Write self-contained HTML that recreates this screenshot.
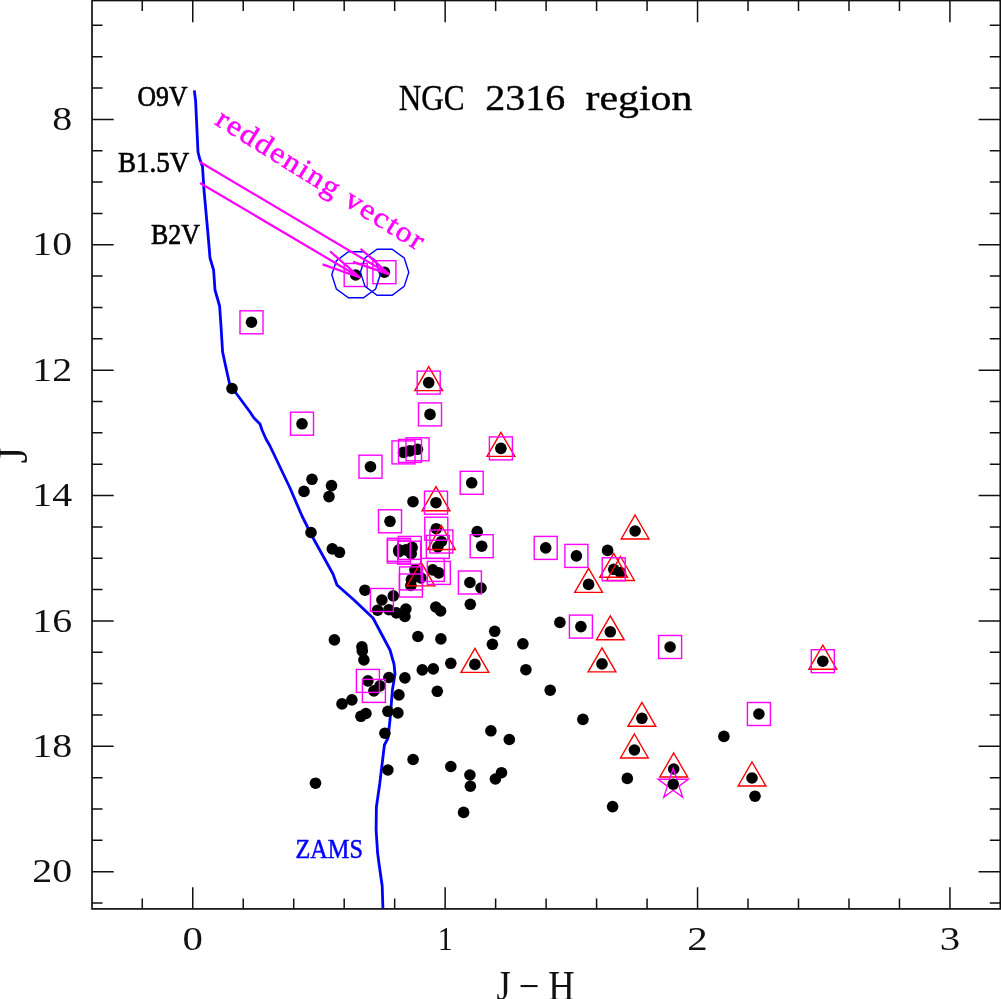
<!DOCTYPE html>
<html lang="en"><head><meta charset="utf-8"><title>NGC 2316 region: J vs J-H</title>
<style>html,body{margin:0;padding:0;background:#fff}svg{display:block}text{font-family:"Liberation Serif","DejaVu Serif",serif}</style></head><body>
<svg width="1001" height="999" viewBox="0 0 1001 999">
<rect x="0" y="0" width="1001" height="999" fill="#fff"/>
<g stroke="#111" fill="none" stroke-width="1.5" stroke-linecap="butt">
<rect x="92.0" y="0.5" width="908.3" height="908.4" stroke-width="1.7"/>
<path d="M142.27 908.9v-10.5M142.27 0.5v10.5"/>
<path d="M192.75 908.9v-21.7M192.75 0.5v21.7"/>
<path d="M243.23 908.9v-10.5M243.23 0.5v10.5"/>
<path d="M293.71 908.9v-10.5M293.71 0.5v10.5"/>
<path d="M344.19 908.9v-10.5M344.19 0.5v10.5"/>
<path d="M394.67 908.9v-10.5M394.67 0.5v10.5"/>
<path d="M445.15 908.9v-21.7M445.15 0.5v21.7"/>
<path d="M495.63 908.9v-10.5M495.63 0.5v10.5"/>
<path d="M546.11 908.9v-10.5M546.11 0.5v10.5"/>
<path d="M596.59 908.9v-10.5M596.59 0.5v10.5"/>
<path d="M647.07 908.9v-10.5M647.07 0.5v10.5"/>
<path d="M697.55 908.9v-21.7M697.55 0.5v21.7"/>
<path d="M748.03 908.9v-10.5M748.03 0.5v10.5"/>
<path d="M798.51 908.9v-10.5M798.51 0.5v10.5"/>
<path d="M848.99 908.9v-10.5M848.99 0.5v10.5"/>
<path d="M899.47 908.9v-10.5M899.47 0.5v10.5"/>
<path d="M949.95 908.9v-21.7M949.95 0.5v21.7"/>
<path d="M92.0 25.37h10.5M1000.3 25.37h-10.5"/>
<path d="M92.0 56.71h10.5M1000.3 56.71h-10.5"/>
<path d="M92.0 88.06h10.5M1000.3 88.06h-10.5"/>
<path d="M92.0 119.40h21.7M1000.3 119.40h-21.7"/>
<path d="M92.0 150.75h10.5M1000.3 150.75h-10.5"/>
<path d="M92.0 182.09h10.5M1000.3 182.09h-10.5"/>
<path d="M92.0 213.44h10.5M1000.3 213.44h-10.5"/>
<path d="M92.0 244.78h21.7M1000.3 244.78h-21.7"/>
<path d="M92.0 276.12h10.5M1000.3 276.12h-10.5"/>
<path d="M92.0 307.47h10.5M1000.3 307.47h-10.5"/>
<path d="M92.0 338.81h10.5M1000.3 338.81h-10.5"/>
<path d="M92.0 370.16h21.7M1000.3 370.16h-21.7"/>
<path d="M92.0 401.50h10.5M1000.3 401.50h-10.5"/>
<path d="M92.0 432.85h10.5M1000.3 432.85h-10.5"/>
<path d="M92.0 464.19h10.5M1000.3 464.19h-10.5"/>
<path d="M92.0 495.54h21.7M1000.3 495.54h-21.7"/>
<path d="M92.0 526.88h10.5M1000.3 526.88h-10.5"/>
<path d="M92.0 558.23h10.5M1000.3 558.23h-10.5"/>
<path d="M92.0 589.57h10.5M1000.3 589.57h-10.5"/>
<path d="M92.0 620.92h21.7M1000.3 620.92h-21.7"/>
<path d="M92.0 652.26h10.5M1000.3 652.26h-10.5"/>
<path d="M92.0 683.61h10.5M1000.3 683.61h-10.5"/>
<path d="M92.0 714.95h10.5M1000.3 714.95h-10.5"/>
<path d="M92.0 746.30h21.7M1000.3 746.30h-21.7"/>
<path d="M92.0 777.64h10.5M1000.3 777.64h-10.5"/>
<path d="M92.0 808.99h10.5M1000.3 808.99h-10.5"/>
<path d="M92.0 840.33h10.5M1000.3 840.33h-10.5"/>
<path d="M92.0 871.68h21.7M1000.3 871.68h-21.7"/>
<path d="M92.0 903.02h10.5M1000.3 903.02h-10.5"/>
</g>
<text transform="translate(72.1,130.0) scale(1.19,1)" text-anchor="end" font-size="33.5px" fill="#111">8</text>
<text transform="translate(72.1,255.4) scale(1.19,1)" text-anchor="end" font-size="33.5px" fill="#111">10</text>
<text transform="translate(72.1,380.8) scale(1.19,1)" text-anchor="end" font-size="33.5px" fill="#111">12</text>
<text transform="translate(72.1,506.1) scale(1.19,1)" text-anchor="end" font-size="33.5px" fill="#111">14</text>
<text transform="translate(72.1,631.5) scale(1.19,1)" text-anchor="end" font-size="33.5px" fill="#111">16</text>
<text transform="translate(72.1,756.9) scale(1.19,1)" text-anchor="end" font-size="33.5px" fill="#111">18</text>
<text transform="translate(72.1,882.3) scale(1.19,1)" text-anchor="end" font-size="33.5px" fill="#111">20</text>
<text transform="translate(192.8,950.3) scale(1.22,1)" text-anchor="middle" font-size="33.5px" fill="#111">0</text>
<text transform="translate(445.4,950.3) scale(0.9,1)" text-anchor="middle" font-size="33.5px" fill="#111">1</text>
<text transform="translate(697.5,950.3) scale(1.22,1)" text-anchor="middle" font-size="33.5px" fill="#111">2</text>
<text transform="translate(950.0,950.3) scale(1.22,1)" text-anchor="middle" font-size="33.5px" fill="#111">3</text>
<text transform="translate(496.6,1000) scale(0.87,1)" x="0 25.5 59.5" font-size="42px" fill="#111">J−H</text>
<text transform="translate(27,455.2) rotate(-90)" text-anchor="middle" font-size="42px" fill="#111">J</text>
<g aria-label="NGC 2316 region">
<text transform="translate(398.7,110.3) scale(0.8931,1)" font-size="35px" fill="#000" stroke="#000" stroke-width="0.35">NGC</text>
<text transform="translate(485.3,110.3) scale(1.1429,1)" font-size="35px" fill="#000" stroke="#000" stroke-width="0.35">2316</text>
<text transform="translate(585.5,110.3) scale(1.1967,1)" font-size="35px" fill="#000" stroke="#000" stroke-width="0.35">region</text>
</g>
<text transform="translate(137.5,106.1) scale(0.9023,1)" font-size="28.5px" fill="#000" stroke="#000" stroke-width="0.7">O9V</text>
<text transform="translate(118,171.7) scale(0.9493,1)" font-size="28.5px" fill="#000" stroke="#000" stroke-width="0.7">B1.5V</text>
<text transform="translate(151,244) scale(0.9064,1)" font-size="28.5px" fill="#000" stroke="#000" stroke-width="0.7">B2V</text>
<polyline points="194.3,90.4 195.6,100.8 198.0,152.0 199.6,158.4 202.5,166.4 203.9,188.8 208.5,240.0 210.0,258.0 213.6,270.0 215.0,290.0 219.6,306.0 221.0,326.0 222.6,352.0 225.6,366.0 229.6,384.0 233.0,389.0 250.0,412.0 254.0,418.0 260.0,424.0 262.0,430.0 266.0,439.0 270.0,446.0 290.0,488.0 302.0,516.0 312.0,536.0 333.0,574.0 337.0,585.0 354.0,600.0 373.0,618.0 390.0,650.0 394.0,664.0 395.0,674.0 392.4,690.0 390.0,720.0 388.0,738.0 384.4,745.0 382.6,760.0 379.7,784.0 376.4,807.0 376.1,830.0 377.6,853.0 379.2,865.0 382.2,886.0 382.9,908.2" fill="none" stroke="#0000ff" stroke-width="2.8" stroke-linejoin="round"/>
<text transform="translate(295.5,857.5) scale(0.9052,1)" font-size="26.8px" fill="#0000ff" stroke="#0000ff" stroke-width="0.5">ZAMS</text>
<g fill="#000">
<circle cx="355.7" cy="275.0" r="5.8"/>
<circle cx="384.4" cy="272.2" r="5.8"/>
<circle cx="251.5" cy="322.2" r="5.8"/>
<circle cx="232.0" cy="388.5" r="5.8"/>
<circle cx="302.0" cy="423.8" r="5.8"/>
<circle cx="428.7" cy="382.6" r="5.8"/>
<circle cx="430.0" cy="414.4" r="5.8"/>
<circle cx="370.5" cy="466.7" r="5.8"/>
<circle cx="403.5" cy="452.4" r="5.8"/>
<circle cx="410.0" cy="450.9" r="5.8"/>
<circle cx="417.5" cy="449.3" r="5.8"/>
<circle cx="500.9" cy="448.4" r="5.8"/>
<circle cx="471.7" cy="482.8" r="5.8"/>
<circle cx="413.0" cy="501.7" r="5.8"/>
<circle cx="436.0" cy="502.7" r="5.8"/>
<circle cx="390.0" cy="521.3" r="5.8"/>
<circle cx="436.3" cy="528.7" r="5.8"/>
<circle cx="477.2" cy="531.6" r="5.8"/>
<circle cx="441.4" cy="541.5" r="5.8"/>
<circle cx="437.8" cy="546.9" r="5.8"/>
<circle cx="481.7" cy="546.2" r="5.8"/>
<circle cx="312.0" cy="479.3" r="5.8"/>
<circle cx="304.0" cy="491.4" r="5.8"/>
<circle cx="331.5" cy="485.6" r="5.8"/>
<circle cx="329.0" cy="496.6" r="5.8"/>
<circle cx="311.0" cy="532.5" r="5.8"/>
<circle cx="332.3" cy="548.9" r="5.8"/>
<circle cx="339.5" cy="552.3" r="5.8"/>
<circle cx="398.9" cy="549.8" r="5.8"/>
<circle cx="398.9" cy="551.6" r="5.8"/>
<circle cx="405.9" cy="549.9" r="5.8"/>
<circle cx="412.1" cy="547.4" r="5.8"/>
<circle cx="411.2" cy="553.7" r="5.8"/>
<circle cx="414.9" cy="569.9" r="5.8"/>
<circle cx="411.4" cy="579.6" r="5.8"/>
<circle cx="420.9" cy="577.9" r="5.8"/>
<circle cx="410.9" cy="585.5" r="5.8"/>
<circle cx="432.8" cy="569.9" r="5.8"/>
<circle cx="438.8" cy="572.9" r="5.8"/>
<circle cx="469.9" cy="582.5" r="5.8"/>
<circle cx="481.0" cy="588.0" r="5.8"/>
<circle cx="470.3" cy="604.3" r="5.8"/>
<circle cx="364.9" cy="590.2" r="5.8"/>
<circle cx="381.9" cy="600.0" r="5.8"/>
<circle cx="393.3" cy="595.8" r="5.8"/>
<circle cx="377.6" cy="610.2" r="5.8"/>
<circle cx="388.9" cy="609.7" r="5.8"/>
<circle cx="396.4" cy="612.9" r="5.8"/>
<circle cx="405.9" cy="609.0" r="5.8"/>
<circle cx="404.9" cy="616.4" r="5.8"/>
<circle cx="435.8" cy="607.0" r="5.8"/>
<circle cx="440.6" cy="611.0" r="5.8"/>
<circle cx="494.7" cy="631.3" r="5.8"/>
<circle cx="492.4" cy="644.3" r="5.8"/>
<circle cx="417.9" cy="636.5" r="5.8"/>
<circle cx="440.9" cy="638.9" r="5.8"/>
<circle cx="334.4" cy="639.9" r="5.8"/>
<circle cx="361.9" cy="646.9" r="5.8"/>
<circle cx="362.3" cy="650.9" r="5.8"/>
<circle cx="363.9" cy="659.9" r="5.8"/>
<circle cx="450.8" cy="663.3" r="5.8"/>
<circle cx="474.9" cy="664.4" r="5.8"/>
<circle cx="422.3" cy="669.9" r="5.8"/>
<circle cx="433.3" cy="668.9" r="5.8"/>
<circle cx="388.9" cy="677.5" r="5.8"/>
<circle cx="404.9" cy="677.9" r="5.8"/>
<circle cx="367.9" cy="680.9" r="5.8"/>
<circle cx="379.9" cy="685.9" r="5.8"/>
<circle cx="373.9" cy="690.9" r="5.8"/>
<circle cx="437.3" cy="691.3" r="5.8"/>
<circle cx="398.9" cy="694.9" r="5.8"/>
<circle cx="351.9" cy="699.9" r="5.8"/>
<circle cx="342.0" cy="703.9" r="5.8"/>
<circle cx="387.9" cy="711.3" r="5.8"/>
<circle cx="397.9" cy="712.9" r="5.8"/>
<circle cx="365.9" cy="713.5" r="5.8"/>
<circle cx="360.9" cy="716.3" r="5.8"/>
<circle cx="384.9" cy="733.2" r="5.8"/>
<circle cx="490.9" cy="730.8" r="5.8"/>
<circle cx="509.3" cy="739.5" r="5.8"/>
<circle cx="413.1" cy="759.5" r="5.8"/>
<circle cx="387.9" cy="770.0" r="5.8"/>
<circle cx="315.5" cy="783.2" r="5.8"/>
<circle cx="450.8" cy="766.5" r="5.8"/>
<circle cx="469.9" cy="775.0" r="5.8"/>
<circle cx="470.4" cy="786.2" r="5.8"/>
<circle cx="501.5" cy="772.7" r="5.8"/>
<circle cx="495.4" cy="779.0" r="5.8"/>
<circle cx="463.6" cy="812.4" r="5.8"/>
<circle cx="545.7" cy="547.9" r="5.8"/>
<circle cx="576.4" cy="555.9" r="5.8"/>
<circle cx="607.6" cy="550.4" r="5.8"/>
<circle cx="635.1" cy="531.0" r="5.8"/>
<circle cx="613.7" cy="569.3" r="5.8"/>
<circle cx="620.5" cy="572.5" r="5.8"/>
<circle cx="588.6" cy="584.4" r="5.8"/>
<circle cx="559.9" cy="622.4" r="5.8"/>
<circle cx="580.9" cy="626.6" r="5.8"/>
<circle cx="610.3" cy="631.8" r="5.8"/>
<circle cx="522.9" cy="643.8" r="5.8"/>
<circle cx="525.9" cy="669.7" r="5.8"/>
<circle cx="602.0" cy="663.9" r="5.8"/>
<circle cx="670.1" cy="647.0" r="5.8"/>
<circle cx="550.2" cy="690.2" r="5.8"/>
<circle cx="582.9" cy="719.4" r="5.8"/>
<circle cx="641.9" cy="718.3" r="5.8"/>
<circle cx="634.4" cy="750.0" r="5.8"/>
<circle cx="673.7" cy="769.0" r="5.8"/>
<circle cx="673.2" cy="784.2" r="5.8"/>
<circle cx="627.3" cy="778.4" r="5.8"/>
<circle cx="612.6" cy="806.6" r="5.8"/>
<circle cx="822.8" cy="661.2" r="5.8"/>
<circle cx="758.9" cy="714.0" r="5.8"/>
<circle cx="723.9" cy="736.4" r="5.8"/>
<circle cx="752.0" cy="778.0" r="5.8"/>
<circle cx="755.0" cy="796.2" r="5.8"/>
</g>
<g fill="none" stroke="#ff0000" stroke-width="1.4">
<polygon points="428.7,366.6 442.6,390.6 414.8,390.6"/>
<polygon points="500.9,432.4 514.8,456.4 487.0,456.4"/>
<polygon points="436.0,486.7 449.9,510.7 422.1,510.7"/>
<polygon points="441.4,525.5 455.3,549.5 427.5,549.5"/>
<polygon points="420.9,561.9 434.8,585.9 407.0,585.9"/>
<polygon points="474.9,648.4 488.8,672.4 461.0,672.4"/>
<polygon points="635.1,515.0 649.0,539.0 621.2,539.0"/>
<polygon points="613.7,553.3 627.6,577.3 599.8,577.3"/>
<polygon points="620.5,556.5 634.4,580.5 606.6,580.5"/>
<polygon points="588.6,568.4 602.5,592.4 574.7,592.4"/>
<polygon points="610.3,615.8 624.2,639.8 596.4,639.8"/>
<polygon points="602.0,647.9 615.9,671.9 588.1,671.9"/>
<polygon points="641.9,702.3 655.8,726.3 628.0,726.3"/>
<polygon points="634.4,734.0 648.3,758.0 620.5,758.0"/>
<polygon points="673.7,753.0 687.6,777.0 659.8,777.0"/>
<polygon points="822.8,645.2 836.7,669.2 808.9,669.2"/>
<polygon points="752.0,762.0 765.9,786.0 738.1,786.0"/>
</g>
<g fill="none" stroke="#ff00ff" stroke-width="1.4">
<rect x="344.2" y="263.5" width="23" height="23"/>
<rect x="372.9" y="260.7" width="23" height="23"/>
<rect x="240.0" y="310.8" width="23" height="23"/>
<rect x="290.5" y="412.2" width="23" height="23"/>
<rect x="417.2" y="371.1" width="23" height="23"/>
<rect x="418.5" y="402.9" width="23" height="23"/>
<rect x="359.0" y="455.2" width="23" height="23"/>
<rect x="392.0" y="440.9" width="23" height="23"/>
<rect x="398.5" y="439.4" width="23" height="23"/>
<rect x="406.0" y="437.8" width="23" height="23"/>
<rect x="489.4" y="436.9" width="23" height="23"/>
<rect x="460.2" y="471.3" width="23" height="23"/>
<rect x="424.5" y="491.2" width="23" height="23"/>
<rect x="378.5" y="509.8" width="23" height="23"/>
<rect x="424.8" y="517.2" width="23" height="23"/>
<rect x="429.9" y="530.0" width="23" height="23"/>
<rect x="426.3" y="535.4" width="23" height="23"/>
<rect x="470.2" y="534.7" width="23" height="23"/>
<rect x="387.4" y="538.3" width="23" height="23"/>
<rect x="387.4" y="540.1" width="23" height="23"/>
<rect x="398.3" y="536.4" width="23" height="23"/>
<rect x="397.7" y="541.2" width="23" height="23"/>
<rect x="399.5" y="566.9" width="23" height="23"/>
<rect x="399.4" y="574.0" width="23" height="23"/>
<rect x="421.3" y="558.4" width="23" height="23"/>
<rect x="427.3" y="561.4" width="23" height="23"/>
<rect x="458.4" y="571.0" width="23" height="23"/>
<rect x="370.4" y="588.5" width="23" height="23"/>
<rect x="356.4" y="669.4" width="23" height="23"/>
<rect x="362.4" y="679.4" width="23" height="23"/>
<rect x="534.2" y="536.4" width="23" height="23"/>
<rect x="564.9" y="544.4" width="23" height="23"/>
<rect x="602.2" y="557.8" width="23" height="23"/>
<rect x="569.4" y="615.1" width="23" height="23"/>
<rect x="658.6" y="635.5" width="23" height="23"/>
<polygon points="673.2,768.2 676.8,779.3 688.4,779.3 679.0,786.1 682.6,797.1 673.2,790.3 663.8,797.1 667.4,786.1 658.0,779.3 669.6,779.3"/>
<rect x="811.3" y="649.7" width="23" height="23"/>
<rect x="747.4" y="702.5" width="23" height="23"/>
</g>
<g fill="none" stroke="#0000ff" stroke-width="1.4">
<polygon points="380.2,274.8 375.6,289.0 363.5,297.8 348.5,297.8 336.4,289.0 331.8,274.8 336.4,260.6 348.5,251.8 363.5,251.8 375.6,260.6"/>
<polygon points="408.8,272.2 404.2,286.4 392.1,295.2 377.1,295.2 365.0,286.4 360.4,272.2 365.0,258.0 377.1,249.2 392.1,249.2 404.2,258.0"/>
</g>
<g fill="none" stroke="#ff00ff" stroke-width="2.2" stroke-linecap="butt">
<path d="M200 162L389.4 274.4M360.6 248.75L389.4 274.4L353 261.9"/>
<path d="M200 183L360 277.5M330 251.25L360 277.5L322.5 264.4"/>
</g>
<text transform="translate(213.8,123.8) rotate(32) scale(1.1,1)" font-size="29px" letter-spacing="1.5" fill="#ff00ff" stroke="#ff00ff" stroke-width="0.5">reddening vector</text>
</svg></body></html>
